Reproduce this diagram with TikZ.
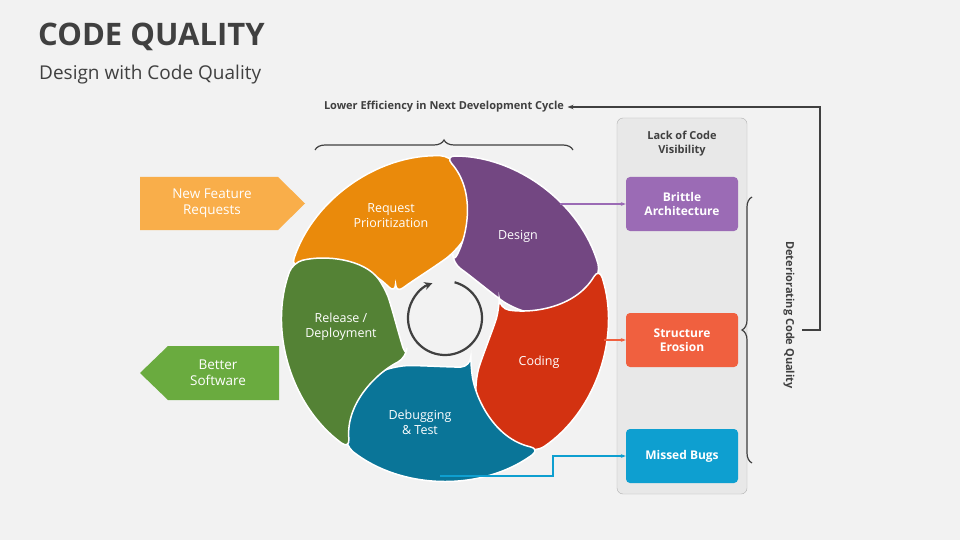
\documentclass[tikz,border=0pt]{standalone}
\usepackage{fontspec}
\setmainfont{Open Sans}
\usetikzlibrary{decorations.pathreplacing,arrows.meta}
\definecolor{bg}{HTML}{F2F2F2}
\definecolor{corange}{HTML}{EA8A0B}
\definecolor{cpurple}{HTML}{734782}
\definecolor{cred}{HTML}{D33211}
\definecolor{cblue}{HTML}{0A7598}
\definecolor{cgreen}{HTML}{548235}
\definecolor{lorange}{HTML}{F9AE4A}
\definecolor{lgreen}{HTML}{6AAB3F}
\definecolor{bpurple}{HTML}{9B6BB5}
\definecolor{bred}{HTML}{F0603F}
\definecolor{bblue}{HTML}{0E9FD0}
\definecolor{dark}{HTML}{404040}
\tikzset{
 blade/.style={draw=white,line width=1.5pt,rounded corners=10pt},
 wtxt/.style={text=white,font=\fontsize{12.5}{15}\selectfont,align=center},
 box/.style={rounded corners=4pt,minimum width=112pt,minimum height=54pt,text=white,font=\bfseries\fontsize{12}{14}\selectfont,align=center,inner sep=0pt},
 conn/.style={line width=1.2pt,-{Stealth[length=5pt]}},
}
\begin{document}
\begin{tikzpicture}[x=1pt,y=-1pt]
\fill[bg] (0,0) rectangle (960,540);
\useasboundingbox (0,0) rectangle (960,540);
\node[anchor=base west,inner sep=0,text=dark,font=\bfseries\fontsize{31}{34}\selectfont] (title) at (38,46) {CODE QUALITY};
\node[anchor=base west,inner sep=0,text=dark,font=\fontsize{19}{22}\selectfont] (sub) at (39,80) {Design with Code Quality};
% cycle
\begin{scope}[shift={(445,318)},yscale=-1]
\foreach \r/\c in {0/corange,72/cpurple,144/cred,216/cblue,-72/cgreen}{
 \begin{scope}[rotate=\r]
 \fill[\c,blade] (154:55) .. controls (147:85) and (148:130) .. (162:162) arc[start angle=162,end angle=88,radius=162] .. controls (80:135) and (72:100) .. (81:68) .. controls (95:55) and (135:50) .. (154:55) -- cycle;
 \end{scope}}
\draw[dark,line width=2.2pt,-{Stealth[length=8pt,width=8pt]}] (75:37) arc[start angle=75,end angle=-250,radius=37];
\end{scope}
\node[wtxt] (t1) at (391,216) {Request\\Prioritization};
\node[wtxt] (t2) at (518,236) {Design};
\node[wtxt] (t3) at (539,362) {Coding};
\node[wtxt] (t4) at (420,422) {Debugging\\\& Test};
\node[wtxt] (t5) at (341,327) {Release /\\Deployment};
% left arrows
\fill[lorange] (140,177) -- (278,177) -- (305,203.5) -- (278,230) -- (140,230) -- cycle;
\node[wtxt,font=\fontsize{13.5}{16}\selectfont] (nf) at (212,203.5) {New Feature\\Requests};
\fill[lgreen] (279,346) -- (168,346) -- (140,373) -- (168,400) -- (279,400) -- cycle;
\node[wtxt,font=\fontsize{13.5}{16}\selectfont] (bs) at (218,373) {Better\\Software};
% panel
\draw[fill=black!9,draw=black!30,rounded corners=6pt] (617,118) rectangle (747,494);
\node[text=dark,font=\bfseries\fontsize{11}{14}\selectfont,align=center] (lack) at (682,144) {Lack of Code\\Visibility};
\node[box,fill=bpurple] (b1) at (682,204) {Brittle\\Architecture};
\node[box,fill=bred] (b2) at (682,340) {Structure\\Erosion};
\node[box,fill=bblue] (b3) at (682,456) {Missed Bugs};
\draw[conn,bpurple] (560,204) -- (b1.west);
\draw[conn,bred] (604,340) -- (b2.west);
\draw[conn,bblue] (440,476) -- (553,476) -- (553,456) -- (b3.west);
% braces
\draw[dark,line width=1.2pt,decorate,decoration={brace,amplitude=10pt}] (315,150) -- (573,150);
\node[text=dark,font=\bfseries\fontsize{11}{13}\selectfont] (lower) at (444,107) {Lower Efficiency in Next Development Cycle};
\draw[dark,line width=1.2pt,decorate,decoration={brace,amplitude=10pt,mirror}] (752,197) -- (752,463);
\node[rotate=-90,text=dark,font=\bfseries\fontsize{11}{13}\selectfont] (det) at (789,315) {Deteriorating Code Quality};
\coordinate (fb) at (802,330);
\draw[dark,line width=1.2pt,-{Stealth[length=6pt]}] (fb) -- (820,330) -- (820,107) -- (lower.east);
\end{tikzpicture}
\end{document}
